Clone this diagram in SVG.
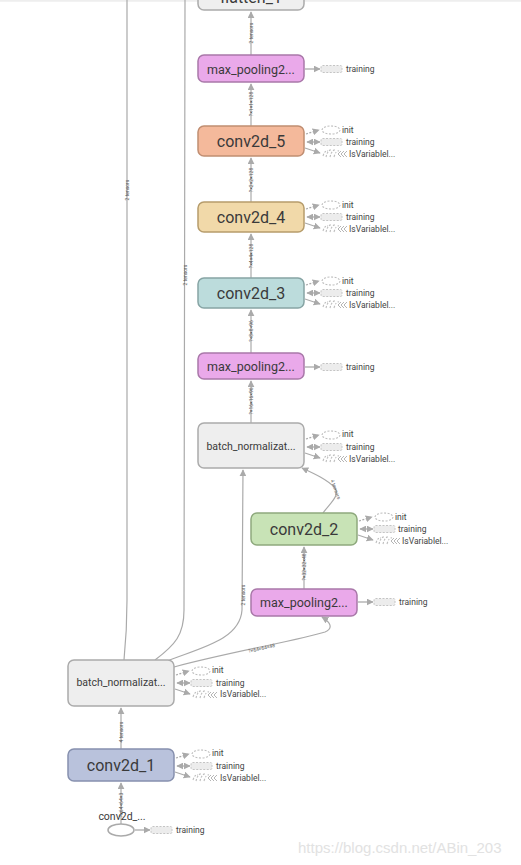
<svg xmlns="http://www.w3.org/2000/svg" xmlns:xlink="http://www.w3.org/1999/xlink" width="521" height="865" viewBox="0 0 521 865">
<style>
.bg{fill:#ffffff}
.node{stroke-width:1.5}
.n-text{font-family:Roboto,"Liberation Sans",sans-serif;fill:#3a3a3a;text-anchor:middle}
.big{font-size:16px}
.mid{font-size:12.5px}
.small{font-size:10.5px}
.aux{font-family:Roboto,"Liberation Sans",sans-serif;font-size:8.5px;fill:#444}
.edge{fill:none;stroke:#aaaaaa;stroke-width:1.2}
.elabel{font-family:Roboto,"Liberation Sans",sans-serif;font-size:5px;fill:#555;text-anchor:middle}
.dash{fill:none;stroke:#bdbdbd;stroke-width:1.1;stroke-dasharray:2,1.5}
.dashf{fill:#ececec;stroke:#c4c4c4;stroke-width:1;stroke-dasharray:2,1.5}
.aline{stroke:#aaaaaa;stroke-width:1.3;fill:none}
.wm{font-family:"Liberation Sans",Arial,sans-serif;font-size:15px;fill:#e2e2e2}
</style>
<defs>
<marker id="ah" viewBox="0 0 10 10" refX="9" refY="5" markerWidth="7" markerHeight="7" orient="auto-start-reverse" markerUnits="userSpaceOnUse">
<path d="M0,0 L10,5 L0,10 z" fill="#aaaaaa"/>
</marker>
<g id="aux3">
<path d="M2,-8 L15,-12" class="aline" stroke-dasharray="2,1.5" marker-end="url(#ah)"/>
<ellipse cx="27" cy="-12" rx="9" ry="4" class="dash"/>
<path d="M3,0 L16,0" class="aline" marker-start="url(#ah)" marker-end="url(#ah)"/>
<rect x="17" y="-3.5" width="21" height="7" rx="1.5" class="dashf"/>
<path d="M1,6 L16,11" class="aline" marker-end="url(#ah)"/>
<path d="M19,14 Q21,8 24,9 M22,15 Q24,7 28,8 M26,15 Q28,7 32,8 M30,15 Q32,8 35,9" class="dash"/>
<path d="M37,9 L34,12 L37,15 M40,9 L37,12 L40,15 M43,9 L40,12 L43,15" fill="none" stroke="#b5b5b5" stroke-width="1"/>
</g>
<g id="aux1">
<path d="M1,0 L16,0" class="aline" marker-end="url(#ah)"/>
<rect x="17" y="-3.5" width="21" height="7" rx="1.5" class="dashf"/>
</g>
</defs>
<rect class="bg" x="0" y="0" width="521" height="865"/>
<line x1="0" y1="0.8" x2="521" y2="0.8" stroke="#eeeeee" stroke-width="2"/>

<g id="connectors">
<path class="edge" d="M251,55 L251,12" marker-end="url(#ah)"/>
<path class="edge" d="M251,126 L251,84" marker-end="url(#ah)"/>
<path class="edge" d="M251,202 L251,158" marker-end="url(#ah)"/>
<path class="edge" d="M251,278 L251,234" marker-end="url(#ah)"/>
<path class="edge" d="M251,353 L251,310" marker-end="url(#ah)"/>
<path class="edge" d="M251,423 L251,381" marker-end="url(#ah)"/>
<path class="edge" d="M323,513 C330,503 340,496 335,488 C328,480 315,474 302,468" marker-end="url(#ah)"/>
<path class="edge" d="M304,589 L304,547" marker-end="url(#ah)"/>
<path class="edge" d="M174,667 C230,652 300,640 325,632 C334,628 330,622 322,617" marker-end="url(#ah)"/>
<path class="edge" d="M167,661 C200,648 240,640 242,610 L243,470" marker-end="url(#ah)"/>
<path class="edge" d="M155,660 C175,645 184,635 184,610 L185,0"/>
<path class="edge" d="M124,660 C126,640 127,630 127,600 L127,0"/>
<path class="edge" d="M121,749 L121,708" marker-end="url(#ah)"/>
<path class="edge" d="M121,824 L121,783" marker-end="url(#ah)"/>
<text class="elabel" transform="translate(253,33) rotate(-90)">2 tensors</text>
<text class="elabel" transform="translate(253,104) rotate(-90)">?×1×1×128</text>
<text class="elabel" transform="translate(253,180) rotate(-90)">?×2×2×128</text>
<text class="elabel" transform="translate(253,256) rotate(-90)">?×4×4×128</text>
<text class="elabel" transform="translate(253,331) rotate(-90)">?×8×8×96</text>
<text class="elabel" transform="translate(253,401) rotate(-90)">?×16×16×96</text>
<text class="elabel" transform="translate(334,490) rotate(70)">4 tensors</text>
<text class="elabel" transform="translate(306,567) rotate(-90)">?×32×32×48</text>
<text class="elabel" transform="translate(262,650) rotate(-13)">?×64×64×48</text>
<text class="elabel" transform="translate(245,595) rotate(-90)">2 tensors</text>
<text class="elabel" transform="translate(187,275) rotate(-90)">2 tensors</text>
<text class="elabel" transform="translate(129,190) rotate(-90)">2 tensors</text>
<text class="elabel" transform="translate(123,732) rotate(-90)">4 tensors</text>
<text class="elabel" transform="translate(123,805) rotate(-90)">?×64×64×3</text>
</g>

<g id="flatten_1">
<rect class="node" x="198" y="-22" width="106" height="32" rx="6" fill="#efefef" stroke="#ababab"/>
<text class="n-text big" x="251" y="3">flatten_1</text>
<use xlink:href="#aux1" x="304" y="-10"/>
</g>

<g id="max_pooling2_top">
<rect class="node" x="198" y="55" width="106" height="27" rx="6" fill="#eaa9ea" stroke="#a978a9"/>
<text class="n-text mid" x="251" y="73.5">max_pooling2...</text>
<use xlink:href="#aux1" x="304" y="69"/>
<text class="aux" x="346" y="72">training</text>
</g>

<g id="conv2d_5">
<rect class="node" x="198" y="126" width="106" height="30" rx="6" fill="#f4b99b" stroke="#c08e72"/>
<text class="n-text big" x="251" y="146.5">conv2d_5</text>
<use xlink:href="#aux3" x="304" y="142"/>
<text class="aux" x="342" y="133">init</text>
<text class="aux" x="346" y="145">training</text>
<text class="aux" x="349" y="157">IsVariablel...</text>
</g>

<g id="conv2d_4">
<rect class="node" x="198" y="202" width="106" height="30" rx="6" fill="#f1d9a9" stroke="#b69c6b"/>
<text class="n-text big" x="251" y="222.5">conv2d_4</text>
<use xlink:href="#aux3" x="304" y="217"/>
<text class="aux" x="342" y="208">init</text>
<text class="aux" x="346" y="220">training</text>
<text class="aux" x="349" y="232">IsVariablel...</text>
</g>

<g id="conv2d_3">
<rect class="node" x="198" y="278" width="106" height="30" rx="6" fill="#bcdcdc" stroke="#86a4a4"/>
<text class="n-text big" x="251" y="298.5">conv2d_3</text>
<use xlink:href="#aux3" x="304" y="293"/>
<text class="aux" x="342" y="284">init</text>
<text class="aux" x="346" y="296">training</text>
<text class="aux" x="349" y="308">IsVariablel...</text>
</g>

<g id="max_pooling2_mid">
<rect class="node" x="198" y="353" width="106" height="26" rx="6" fill="#eaa9ea" stroke="#a978a9"/>
<text class="n-text mid" x="251" y="371">max_pooling2...</text>
<use xlink:href="#aux1" x="304" y="367"/>
<text class="aux" x="346" y="370">training</text>
</g>

<g id="batch_normalization_2">
<rect class="node" x="198" y="423" width="106" height="45" rx="6" fill="#eeeeee" stroke="#ababab"/>
<text class="n-text small" x="251" y="449.5">batch_normalizat...</text>
<use xlink:href="#aux3" x="304" y="447"/>
<text class="aux" x="342" y="437">init</text>
<text class="aux" x="346" y="450">training</text>
<text class="aux" x="349" y="462">IsVariablel...</text>
</g>

<g id="conv2d_2">
<rect class="node" x="251" y="513" width="106" height="32" rx="6" fill="#c8e3b6" stroke="#8ea97d"/>
<text class="n-text big" x="304" y="534.5">conv2d_2</text>
<use xlink:href="#aux3" x="357" y="529"/>
<text class="aux" x="395" y="520">init</text>
<text class="aux" x="398" y="532">training</text>
<text class="aux" x="402" y="544">IsVariablel...</text>
</g>

<g id="max_pooling2_low">
<rect class="node" x="251" y="589" width="106" height="27" rx="6" fill="#eaa9ea" stroke="#a978a9"/>
<text class="n-text mid" x="304" y="607">max_pooling2...</text>
<use xlink:href="#aux1" x="357" y="602"/>
<text class="aux" x="399" y="605">training</text>
</g>

<g id="batch_normalization_1">
<rect class="node" x="68" y="660" width="106" height="46" rx="6" fill="#eeeeee" stroke="#ababab"/>
<text class="n-text small" x="121" y="686">batch_normalizat...</text>
<use xlink:href="#aux3" x="174" y="683"/>
<text class="aux" x="212" y="673">init</text>
<text class="aux" x="216" y="686">training</text>
<text class="aux" x="220" y="697">IsVariablel...</text>
</g>

<g id="conv2d_1">
<rect class="node" x="68" y="749" width="106" height="32" rx="6" fill="#b9c2dc" stroke="#8690ae"/>
<text class="n-text big" x="121" y="770.5">conv2d_1</text>
<use xlink:href="#aux3" x="174" y="766"/>
<text class="aux" x="212" y="756">init</text>
<text class="aux" x="216" y="769">training</text>
<text class="aux" x="220" y="781">IsVariablel...</text>
</g>

<g id="conv2d_input">
<ellipse cx="121" cy="830" rx="13" ry="6" fill="#ffffff" stroke="#aaaaaa" stroke-width="1.5"/>
<text class="n-text" x="122" y="820" font-size="10.5px">conv2d_...</text>
<use xlink:href="#aux1" x="134" y="830"/>
<text class="aux" x="176" y="833">training</text>
</g>

<text class="wm" x="298" y="853">https://blog.csdn.net/ABin_203</text>
</svg>
